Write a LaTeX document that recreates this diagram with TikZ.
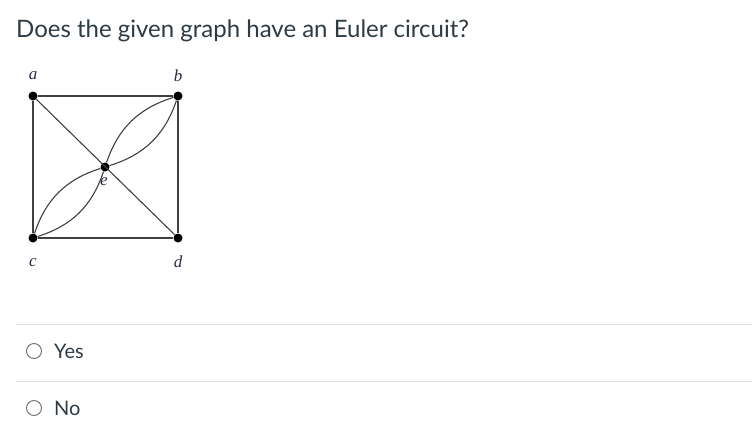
\documentclass[tikz,border=0pt]{standalone}
\usepackage{fontspec}
\setmainfont{Lato}
\newfontfamily\serifit{Liberation Serif}
\definecolor{txt}{HTML}{2D3B45}
\definecolor{rule}{HTML}{DDDDDD}
\definecolor{radio}{HTML}{777777}
\definecolor{lbl}{HTML}{2A2A4A}
\begin{document}
\begin{tikzpicture}[x=1pt,y=-1pt,
  vertex/.style={circle,fill=black,inner sep=0pt,minimum size=9pt},
  edge/.style={draw=black!75,line width=1.1pt},
  vlabel/.style={font=\serifit\itshape\fontsize{17}{17}\selectfont,text=lbl,inner sep=0pt},
  radiobtn/.style={circle,draw=radio,line width=1pt,minimum size=15pt,inner sep=0pt},
  opt/.style={anchor=west,font=\fontsize{20}{20}\selectfont,text=txt,inner sep=0pt}]
\useasboundingbox (0,0) rectangle (752,442);
\node[anchor=base west,inner sep=0pt,font=\fontsize{24}{24}\selectfont,text=txt] (title) at (16,37) {Does the given graph have an Euler circuit?};
\node[vertex] (a) at (33,96) {};
\node[vertex] (b) at (178,96) {};
\node[vertex] (c) at (33,238) {};
\node[vertex] (d) at (178,238) {};
\node[vertex] (e) at (105,167) {};
\node[vlabel] (la) at (33,76) {a};
\node[vlabel] (lb) at (178,76) {b};
\node[vlabel] (lc) at (33,263) {c};
\node[vlabel] (ld) at (178,262) {d};
\node[vlabel] (le) at (104,182) {e};
\draw[edge] (a) -- (b) -- (d) -- (c) -- (a);
\draw[edge] (a) -- (d);
\draw[edge] (e) to[bend left=27] (b);
\draw[edge] (e) to[bend right=27] (b);
\draw[edge] (c) to[bend left=27] (e);
\draw[edge] (c) to[bend right=27] (e);
\coordinate (r1a) at (16,324);
\coordinate (r1b) at (752,324);
\coordinate (r2a) at (16,381);
\coordinate (r2b) at (752,381);
\draw[rule,line width=1pt] (r1a) -- (r1b);
\draw[rule,line width=1pt] (r2a) -- (r2b);
\node[radiobtn] (ry) at (34,351) {};
\node[opt] (yes) at (54,351) {Yes};
\node[radiobtn] (rn) at (34,408) {};
\node[opt] (no) at (54,408) {No};
\end{tikzpicture}
\end{document}
